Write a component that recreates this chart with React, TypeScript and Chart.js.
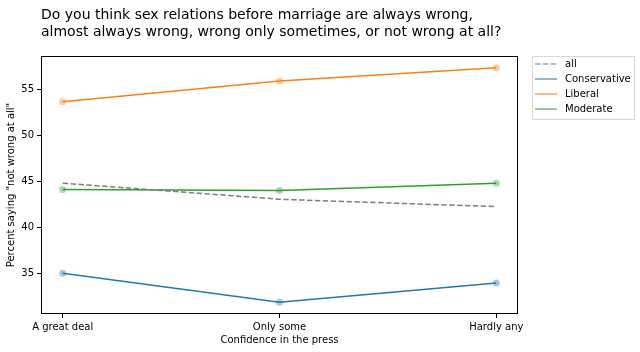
import React, { useEffect, useRef } from "react";
import { Chart, registerables } from "chart.js";

Chart.register(...registerables);

const categories = ["A great deal", "Only some", "Hardly any"];
const seriesNames = ["all", "Conservative", "Liberal", "Moderate"];
const allValues = [44.8, 43.05, 42.25];
const conservativeValues = [35.0, 31.85, 33.95];
const liberalValues = [53.65, 55.9, 57.35];
const moderateValues = [44.1, 44.0, 44.8];
const yTicks = [35, 40, 45, 50, 55];
const titleLines = [
  "Do you think sex relations before marriage are always wrong,",
  "almost always wrong, wrong only sometimes, or not wrong at all?",
];

const FONT = "'DejaVu Sans', sans-serif";

const toPts = (vals: number[]) => vals.map((y, i) => ({ x: i, y }));

export default function App() {
  const ref = useRef<HTMLCanvasElement | null>(null);

  useEffect(() => {
    document.body.style.margin = "0";
    const canvas = ref.current;
    if (!canvas) return;

    const colors = ["#7f7f7f", "#1f77b4", "#ff7f0e", "#2ca02c"];
    const legendColors = ["#a5a5a5", "#6a9fc8", "#f0a468", "#70b970"];
    const fills = [
      "rgba(0,0,0,0)",
      "rgba(31,119,180,0.4)",
      "rgba(255,127,14,0.4)",
      "rgba(44,160,44,0.4)",
    ];
    const values = [allValues, conservativeValues, liberalValues, moderateValues];

    const framePlugin = {
      id: "frame",
      afterDraw(chart: any) {
        const { ctx, chartArea: a } = chart;
        ctx.save();
        ctx.strokeStyle = "#000";
        ctx.lineWidth = 1;
        ctx.strokeRect(Math.round(a.left) + 0.5, Math.round(a.top) + 0.5, Math.round(a.right - a.left) - 1, Math.round(a.bottom - a.top) - 1);
        // title
        ctx.fillStyle = "#000";
        ctx.font = `14px ${FONT}`;
        ctx.textBaseline = "alphabetic";
        ctx.textAlign = "left";
        titleLines.forEach((t, i) => ctx.fillText(t, a.left, 19 + i * 16.5));
        // legend
        const lx = 532, ly = 56, lw = 102, lh = 63;
        ctx.fillStyle = "rgba(255,255,255,0.8)";
        ctx.strokeStyle = "#d8d8d8";
        ctx.beginPath();
        ctx.rect(lx + 0.5, ly + 0.5, lw, lh);
        ctx.fill();
        ctx.stroke();
        ctx.font = `10px ${FONT}`;
        ctx.textBaseline = "middle";
        chart.data.datasets.forEach((ds: any, i: number) => {
          const y = ly + 8 + i * 15;
          ctx.strokeStyle = legendColors[i];
          ctx.lineWidth = 1.5;
          ctx.setLineDash(ds.borderDash || []);
          ctx.beginPath();
          ctx.moveTo(lx + 3, y);
          ctx.lineTo(lx + 25, y);
          ctx.stroke();
          ctx.setLineDash([]);
          ctx.fillStyle = "#000";
          ctx.fillText(ds.label, lx + 33, y);
        });
        ctx.restore();
      },
    };

    const chart = new Chart(canvas, {
      type: "line",
      data: {
        datasets: seriesNames.map((name, i) => ({
          label: name,
          data: toPts(values[i]),
          borderColor: colors[i],
          borderWidth: 1.5,
          borderDash: i === 0 ? [5.5, 2.4] : [],
          pointRadius: i === 0 ? 0 : 3.5,
          pointBackgroundColor: fills[i],
          pointBorderWidth: 0,
          pointHoverRadius: 0,
          tension: 0,
          fill: false,
          order: i === 0 ? 0 : 1,
        })),
      },
      options: {
        animation: false,
        responsive: false,
        events: [],
        layout: { padding: { left: 0, top: 56, right: 122, bottom: 0 } },
        plugins: { legend: { display: false }, tooltip: { enabled: false }, title: { display: false } },
        scales: {
          x: {
            type: "linear",
            min: -0.1,
            max: 2.1,
            afterFit(s: any) { s.height = 38; },
            afterBuildTicks(s: any) { s.ticks = categories.map((_, i) => ({ value: i })); },
            ticks: {
              includeBounds: false,
              stepSize: 1,
              color: "#000",
              font: { family: FONT, size: 10 },
              padding: 3,
              maxRotation: 0,
              autoSkip: false,
              callback: (v: any) => categories[Number(v)] ?? "",
            },
            grid: { display: true, drawOnChartArea: false, drawTicks: true, tickLength: 4, color: "#000" },
            border: { display: false },
            title: { display: true, text: "Confidence in the press", color: "#000", font: { family: FONT, size: 10 }, padding: { top: 0, bottom: 6 } },
          },
          y: {
            type: "linear",
            min: 30.58,
            max: 58.62,
            afterFit(s: any) { s.width = 41; },
            afterBuildTicks(s: any) { s.ticks = yTicks.map((v) => ({ value: v })); },
            ticks: {
              includeBounds: false,
              color: "#000",
              font: { family: FONT, size: 10 },
              padding: 3,
              callback: (v: any) => String(v),
            },
            grid: { display: true, drawOnChartArea: false, drawTicks: true, tickLength: 4, color: "#000" },
            border: { display: false },
            title: { display: true, text: 'Percent saying "not wrong at all"', color: "#000", font: { family: FONT, size: 10 }, padding: { top: 5, bottom: 0 } },
          },
        },
      },
      plugins: [framePlugin],
    } as any);

    return () => chart.destroy();
  }, []);

  return (
    <div style={{ width: 640, height: 352 }}>
      <canvas ref={ref} width={640} height={352} style={{ display: "block" }} />
    </div>
  );
}
